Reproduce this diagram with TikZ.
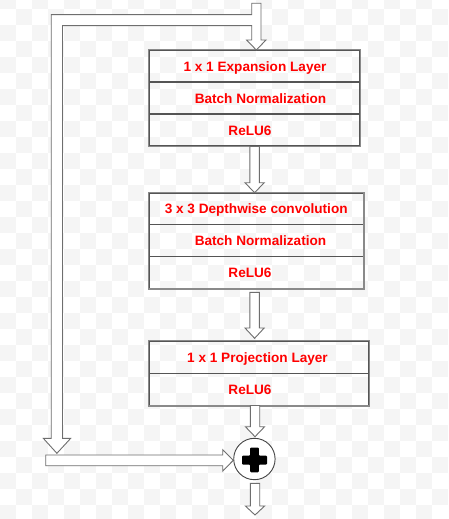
\documentclass[tikz,border=0pt]{standalone}
\usepackage{fontspec}
\setmainfont{Liberation Sans}
\usetikzlibrary{calc}
\definecolor{checker}{HTML}{F5F5F5}
\definecolor{boxline}{HTML}{8A8A8A}
\definecolor{divline}{HTML}{555555}
\definecolor{arrline}{HTML}{6E6E6E}
\definecolor{lblred}{HTML}{FF0000}
\definecolor{circline}{HTML}{444444}
\newcommand\blockdown[4]{% x, ytop, yhead, ytip
  \draw[arr] ({#1-4.7},{#2}) -- ({#1+4.7},{#2}) -- ({#1+4.7},{#3}) -- ({#1+9.6},{#3})
    -- ({#1},{#4}) -- ({#1-9.6},{#3}) -- ({#1-4.7},{#3}) -- cycle;}
\begin{document}
\begin{tikzpicture}[x=1pt,y=-1pt,
  lbl/.style={text=lblred, font=\fontsize{13.6}{16}\selectfont\bfseries, inner sep=0pt, anchor=base},
  rowbox/.style={draw=divline, line width=1.1pt, minimum height=32pt, inner sep=0pt},
  outerbox/.style={draw=boxline, line width=1.6pt},
  arr/.style={draw=arrline, line width=0.9pt, fill=white, line join=miter},
  addnode/.style={circle, draw=circline, line width=0.9pt, fill=white, minimum size=41.4pt, inner sep=0pt}]
\useasboundingbox (0,0) rectangle (448,519);
% background checkerboard
\begin{scope}
\clip (0,0) rectangle (448,519);
\fill[white] (0,0) rectangle (448,519);
\foreach \i in {0,...,27}{
  \foreach \j in {-1,...,32}{
    \pgfmathtruncatemacro\cpar{mod(\i+\j+100,2)}
    \ifnum\cpar=1 \fill[checker] ({16*\i},{9+16*\j}) rectangle ++(16,16); \fi
  }}
\end{scope}

% block 1
\node[rowbox, minimum width=211pt] (b1a) at (254.5,66) {};
\node[rowbox, minimum width=211pt] (b1b) at (254.5,98) {};
\node[rowbox, minimum width=211pt] (b1c) at (254.5,130) {};
\draw[outerbox] (b1a.north west) rectangle (b1c.south east);
\node[lbl] (t1a) at (255,71) {1 x 1 Expansion Layer};
\node[lbl] (t1b) at (260.5,103) {Batch Normalization};
\node[lbl] (t1c) at (250,135) {ReLU6};

% block 2
\node[rowbox, minimum width=214.3pt, minimum height=31.8pt] (b2a) at (256.2,208.9) {};
\node[rowbox, minimum width=214.3pt, minimum height=31.8pt] (b2b) at (256.2,240.7) {};
\node[rowbox, minimum width=214.3pt, minimum height=31.8pt] (b2c) at (256.2,272.5) {};
\draw[outerbox] (b2a.north west) rectangle (b2c.south east);
\node[lbl] (t2a) at (256.2,213.9) {3 x 3 Depthwise convolution};
\node[lbl] (t2b) at (260.5,245.7) {Batch Normalization};
\node[lbl] (t2c) at (250,277.5) {ReLU6};

% block 3
\node[rowbox, minimum width=220pt] (b3a) at (259,357.2) {};
\node[rowbox, minimum width=220pt] (b3b) at (259,389.2) {};
\draw[outerbox] (b3a.north west) rectangle (b3b.south east);
\node[lbl] (t3a) at (257.5,362.2) {1 x 1 Projection Layer};
\node[lbl] (t3b) at (250,394.2) {ReLU6};

% input arrow with skip branch
\draw[arr] (251.7,25.7) -- (62.5,25.7) -- (62.5,438.3) -- (70.7,438.3) -- (56.9,453.3)
  -- (43.3,438.3) -- (51.2,438.3) -- (51.2,14.7) -- (251.7,14.7) -- (251.7,3.3)
  -- (261,3.3) -- (261,40) -- (266,40) -- (256.3,50) -- (246.6,40) -- (251.7,40) -- cycle;

% arrows between blocks
\blockdown{254.6}{146.5}{182.7}{192.7}
\blockdown{254.6}{292.3}{328}{338.3}
\blockdown{255}{405.5}{426.7}{436.7}
\blockdown{255}{483.3}{506}{515}

% skip into add
\draw[arr] (45.7,455) -- (222.7,455) -- (222.7,449.8) -- (233.3,460.3) -- (222.7,471)
  -- (222.7,465.7) -- (45.7,465.7) -- cycle;

% add node
\node[addnode] (add) at (254.4,459) {};
\fill[black, rounded corners=1pt] ($(add.center)+(-12.4,-3.3)$) -- ++(8.2,0) -- ++(0,-8.2) -- ++(8.6,0)
  -- ++(0,8.2) -- ++(8.2,0) -- ++(0,8.8) -- ++(-8.2,0) -- ++(0,7.8) -- ++(-8.6,0)
  -- ++(0,-7.8) -- ++(-8.2,0) -- cycle;
\end{tikzpicture}
\end{document}
